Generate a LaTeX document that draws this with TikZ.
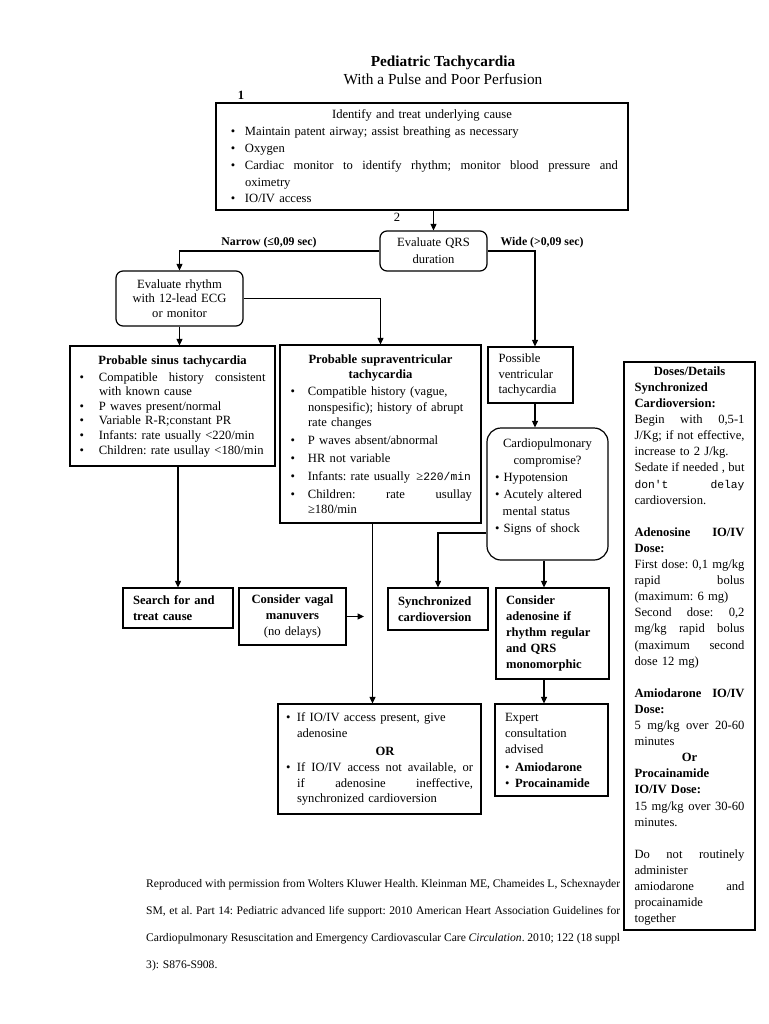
\documentclass[tikz,border=0pt]{standalone}
\usepackage{fontspec}
\setmainfont{Liberation Serif}
\setmonofont{Liberation Mono}
\usetikzlibrary{arrows.meta}
\newlength\bulind \newlength\bulofs
\newcommand\setfs[2]{\fontsize{#1pt}{#2pt}\selectfont}
\newcommand\jsp{\spaceskip=0.25em plus 1fil minus 0.1em\relax\xspaceskip=\spaceskip}
\newcommand\bitem[1]{\noindent\makebox[\bulind][l]{\hspace*{\bulofs}\textbullet}\mbox{#1}\par}
\newcommand\bcont[1]{\noindent\hspace*{\bulind}\mbox{#1}\par}
\newcommand\bj[1]{\makebox[\dimexpr\hsize-\bulind\relax][s]{\jsp #1}}
\newcommand\fj[1]{\noindent\makebox[\hsize][s]{\jsp #1}\par}
\newcommand\pl[1]{\noindent\mbox{#1}\par}
\newcommand\ctr[1]{\noindent\makebox[\hsize][c]{#1}\par}
\newcommand\mono[1]{{\ttfamily\fontsize{11.3pt}{16pt}\selectfont #1}}
\begin{document}
\frenchspacing
\begin{tikzpicture}[x=1pt,y=-1pt,
  every node/.style={inner sep=0pt},
  box/.style={draw, line width=1.2pt, inner ysep=2pt},
  arr/.style={line width=1.1pt, -{Triangle[length=6.5pt,width=6pt]}},
  body/.style={font=\setfs{12.6}{#1}},
  bbody/.style={font=\setfs{12.6}{#1}\bfseries},
]
\fill[white] (0,0) rectangle (768,1024);
\useasboundingbox (0,0) rectangle (768,1024);

% titles
\node[font=\setfs{15.3}{17}\bfseries] (title) at (443,63) {Pediatric Tachycardia};
\node[font=\setfs{15.3}{17}] (subtitle) at (443,79) {With a Pulse and Poor Perfusion};
\node[font=\setfs{12.6}{15}\bfseries] (n1) at (241,95) {1};
\node[font=\setfs{12.6}{15}] (n2) at (397,217) {2};

% box 1
\node[box, body=16.8, text width=392pt, inner xsep=10pt, minimum height=107pt] (box1) at (422,156.5)
 {\setlength\bulind{19pt}\setlength\bulofs{4.8pt}%
  \ctr{Identify and treat underlying cause}%
  \bitem{Maintain patent airway; assist breathing as necessary}%
  \bitem{Oxygen}%
  \bitem{\bj{Cardiac monitor to identify rhythm; monitor blood pressure and}}%
  \bcont{oximetry}%
  \bitem{IO/IV access}};

% QRS
\node[box, body=17, rounded corners=7pt, text width=95pt, inner xsep=6pt, minimum height=40pt] (qrs) at (433.5,251)
 {\ctr{Evaluate QRS}\ctr{duration}};
\node[font=\setfs{11.8}{14}\bfseries] (narrow) at (269,243) {Narrow (≤0,09 sec)};
\node[font=\setfs{11.8}{14}\bfseries] (wide) at (542,243) {Wide (>0,09 sec)};

% evaluate rhythm
\node[box, body=14.2, rounded corners=7pt, text width=115pt, inner xsep=6pt, minimum height=55pt] (ev) at (179.5,298.5)
 {\ctr{Evaluate rhythm}\ctr{with 12-lead ECG}\ctr{or monitor}};

% sinus
\node[box, body=14.6, text width=186pt, inner xsep=9.5pt, minimum height=120pt] (sinus) at (172.5,406)
 {\setlength\bulind{19.5pt}\setlength\bulofs{0pt}%
  \ctr{\bfseries Probable sinus tachycardia}\vspace{2.4pt}%
  \bitem{\bj{Compatible history consistent}}%
  \bcont{with known cause}%
  \bitem{P waves present/normal}%
  \bitem{Variable R-R;constant PR}%
  \bitem{Infants: rate usually <220/min}%
  \bitem{Children: rate usullay <180/min}};

% SVT
\node[box, body=15.5, text width=183pt, inner xsep=9pt, minimum height=178pt] (svt) at (380.5,434)
 {\setlength\bulind{19pt}\setlength\bulofs{1.7pt}%
  \ctr{\bfseries Probable supraventricular}%
  \ctr{\bfseries tachycardia}\vspace{1.5pt}%
  \bitem{Compatible history (vague,}%
  \bcont{nonspesific); history of abrupt}%
  \bcont{rate changes}\vspace{2.5pt}%
  \bitem{P waves absent/abnormal}\vspace{2.5pt}%
  \bitem{HR not variable}\vspace{2pt}%
  \bitem{Infants: rate usually \,≥\mono{220/min}}\vspace{2.5pt}%
  \bitem{\bj{Children: rate usullay}}%
  \bcont{≥180/min}};

% possible VT
\node[box, body=15.5, text width=64pt, inner xsep=10.5pt, minimum height=56pt] (pvt) at (530.5,375)
 {\pl{Possible}\pl{ventricular}\pl{tachycardia}};

% cardiopulmonary
\node[box, body=17, rounded corners=14pt, text width=105pt, inner xsep=8pt, minimum height=132pt] (cardio) at (547.5,494)
 {\setlength\bulind{7.7pt}%
  \ctr{Cardiopulmonary}%
  \ctr{compromise?}%
  \pl{\textbullet\ Hypotension}%
  \pl{\textbullet\ Acutely altered}%
  \bcont{mental status}%
  \pl{\textbullet\ Signs of shock}%
  \pl{\mbox{}}};

% bottom row
\node[box, bbody=16, text width=90pt, inner xsep=10pt, minimum height=40pt] (search) at (178,608)
 {\pl{Search for and}\pl{treat cause}};
\node[box, body=16, text width=97pt, inner xsep=5pt, minimum height=57pt] (vagal) at (292.5,616.5)
 {\ctr{\bfseries Consider vagal}\ctr{\bfseries manuvers}\ctr{(no delays)}};
\node[box, bbody=16, text width=80pt, inner xsep=10pt, minimum height=42pt] (sync) at (438,609)
 {\pl{Synchronized}\pl{cardioversion}};
\node[box, bbody=16, text width=93pt, inner xsep=10pt, minimum height=91pt] (aden) at (552.5,633.5)
 {\pl{Consider}\pl{adenosine if}\pl{rhythm regular}\pl{and QRS}\pl{monomorphic}};

% IO/IV box
\node[box, body=15.5, text width=187pt, inner xsep=8pt, minimum height=110pt] (ifio) at (379.5,759)
 {\setlength\bulind{11pt}\setlength\bulofs{0pt}%
  \bitem{If IO/IV access present, give}%
  \bcont{adenosine}\vspace{2.5pt}%
  \noindent\hspace*{\bulind}\makebox[\dimexpr\hsize-\bulind\relax][c]{\bfseries OR}\par\vspace{1pt}%
  \bitem{\bj{If IO/IV access not available, or}}%
  \bcont{\bj{if adenosine ineffective,}}%
  \bcont{synchronized cardioversion}};

% expert
\node[box, body=16, text width=93pt, inner xsep=10pt, minimum height=92pt] (expert) at (551.5,750)
 {\setlength\bulind{10pt}\setlength\bulofs{0pt}%
  \pl{Expert}%
  \pl{consultation}%
  \pl{advised}\vspace{2pt}%
  \bitem{\bfseries Amiodarone}%
  \bitem{\bfseries Procainamide}};

% doses
\node[box, body=16.1, text width=110pt, inner xsep=10.5pt, minimum height=568pt] (doses) at (689.5,646)
 {\ctr{\bfseries Doses/Details}%
  \pl{\bfseries Synchronized}%
  \pl{\bfseries Cardioversion:}%
  \fj{Begin with 0,5-1}%
  \fj{J/Kg; if not effective,}%
  \pl{increase to 2 J/kg.}%
  \fj{Sedate if needed , but}%
  \fj{\mono{don't delay}}%
  \pl{cardioversion.}%
  \pl{\mbox{}}%
  \fj{\bfseries Adenosine IO/IV}%
  \pl{\bfseries Dose:}%
  \fj{First dose: 0,1 mg/kg}%
  \fj{rapid bolus}%
  \pl{(maximum: 6 mg)}%
  \fj{Second dose: 0,2}%
  \fj{mg/kg rapid bolus}%
  \fj{(maximum second}%
  \pl{dose 12 mg)}%
  \pl{\mbox{}}%
  \fj{\bfseries Amiodarone IO/IV}%
  \pl{\bfseries Dose:}%
  \fj{5 mg/kg over 20-60}%
  \pl{minutes}%
  \ctr{\bfseries Or}%
  \pl{\bfseries Procainamide}%
  \pl{\bfseries IO/IV Dose:}%
  \fj{15 mg/kg over 30-60}%
  \pl{minutes.}%
  \pl{\mbox{}}%
  \fj{Do not routinely}%
  \pl{administer}%
  \fj{amiodarone and}%
  \pl{procainamide}%
  \pl{together}};

% citation
\node[anchor=base west, text width=474pt, font=\setfs{11.6}{27}] (cite) at (146,887)
 {\fj{Reproduced with permission from Wolters Kluwer Health. Kleinman ME, Chameides L, Schexnayder}%
  \fj{SM, et al. Part 14: Pediatric advanced life support: 2010 American Heart Association Guidelines for}%
  \fj{Cardiopulmonary Resuscitation and Emergency Cardiovascular Care \textit{Circulation}. 2010; 122 (18 suppl}%
  \pl{3): S876-S908.}};

% connectors
\draw[arr] (qrs.north |- box1.south) -- (qrs.north);
\draw[arr] (qrs.west) -| (ev.north);
\draw[arr] (qrs.east) -| ([xshift=4.5pt]pvt.north);
\draw[arr] (ev.south) -- (ev.south |- sinus.north);
\draw[arr] (ev.east) -| (svt.north);
\draw[arr] ([xshift=4.5pt]pvt.south) -- ([xshift=4.5pt]pvt.south |- cardio.north);
\draw[arr] (sinus.south -| search.north) -- (search.north);
\draw[arr] ([xshift=-8pt]svt.south) -- ([xshift=-8pt]svt.south |- ifio.north);
\coordinate (vagtip) at (364,616.5);
\draw[arr] (vagal.east) -- (vagtip);
\draw[arr] ([yshift=-39pt]cardio.west) -| (sync.north);
\draw[arr] ([xshift=-3.5pt]cardio.south) -- ([xshift=-3.5pt]cardio.south |- aden.north);
\draw[arr] ([xshift=-8.5pt]aden.south) -- ([xshift=-8.5pt]aden.south |- expert.north);
\end{tikzpicture}
\end{document}
